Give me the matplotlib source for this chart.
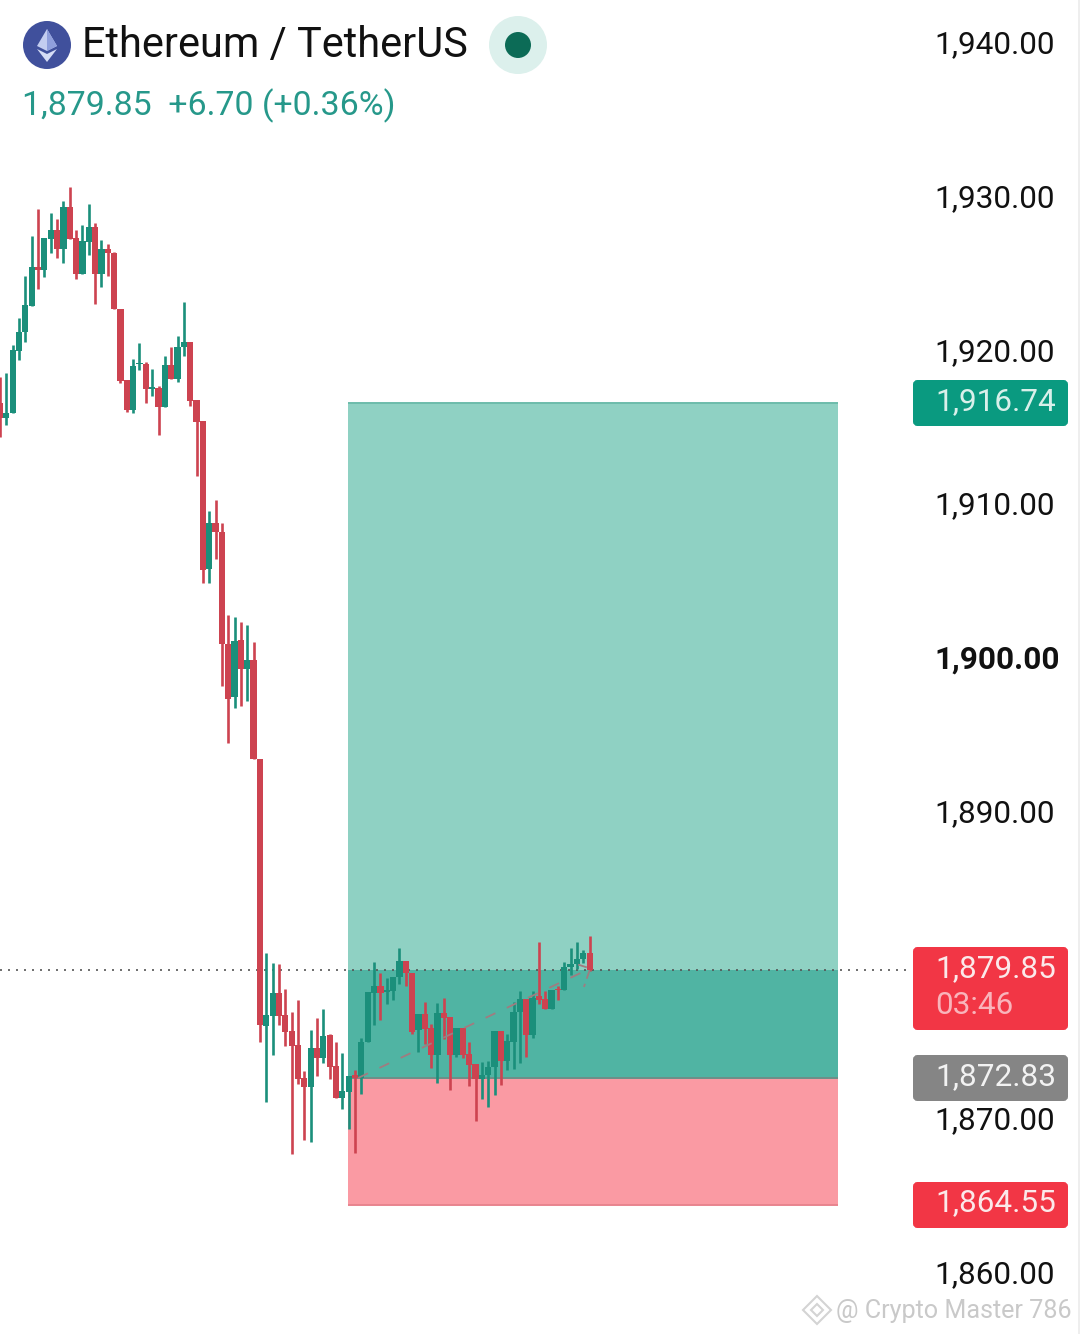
import numpy as np
import matplotlib
matplotlib.use("Agg")
import matplotlib.pyplot as plt
from matplotlib.patches import FancyBboxPatch, Circle, Polygon, Rectangle
from matplotlib.transforms import ScaledTranslation

plt.rcParams['font.family'] = ['Roboto', 'DejaVu Sans']

# ---------- data ----------
opens = [1916.60,1915.63,1915.95,1919.99,1921.23,1922.92,1925.46,1925.26,1927.28,1927.87,
 1926.63,1929.36,1927.35,1925.00,1927.09,1928.06,1925.00,1926.63,1926.37,1922.72,
 1918.10,1916.15,1919.14,1919.14,1917.52,1917.58,1916.34,1919.08,1918.17,1920.25,
 1920.58,1916.80,1915.43,1905.80,1908.79,1908.21,1900.92,1897.47,1901.18,1899.29,
 1899.87,1893.43,1876.11,1876.76,1878.26,1876.83,1875.79,1874.88,1872.73,1872.14,
 1874.68,1874.03,1875.53,1873.51,1871.43,1871.82,1872.92,1872.73,1875.07,1878.26,
 1878.72,1878.33,1878.39,1879.30,1880.34,1879.56,1875.85,1876.89,1875.98,1874.22,
 1876.96,1876.70,1874.22,1875.98,1874.29,1873.64,1872.66,1872.92,1873.44,1875.79,
 1873.83,1875.07,1877.02,1877.87,1875.53,1878.07,1877.87,1877.22,1878.52,1878.46,
 1879.95,1880.15,1880.47,1880.86]
closes = [1915.63,1915.95,1920.05,1921.23,1922.98,1925.46,1925.26,1927.35,1927.87,1926.63,
 1929.36,1927.28,1925.00,1927.15,1928.06,1925.00,1926.63,1926.37,1922.72,1918.04,
 1916.15,1919.01,1919.21,1917.52,1917.65,1916.34,1919.08,1918.17,1920.25,1920.58,
 1916.73,1915.37,1905.73,1908.79,1908.21,1900.92,1897.34,1901.11,1899.29,1899.87,
 1893.43,1876.18,1876.83,1878.26,1876.76,1875.72,1874.81,1872.66,1872.14,1874.68,
 1874.03,1875.46,1873.44,1871.43,1871.88,1872.86,1872.73,1875.07,1878.33,1878.72,
 1878.26,1878.46,1879.30,1880.34,1879.56,1875.72,1876.89,1875.92,1874.22,1876.96,
 1876.63,1874.22,1875.98,1874.22,1873.57,1872.66,1872.92,1873.44,1875.79,1873.83,
 1875.13,1877.02,1877.87,1875.53,1877.93,1877.81,1877.22,1878.46,1878.46,1879.95,
 1880.15,1880.47,1880.86,1879.73]
highs = [1918.30,1918.56,1920.38,1922.14,1924.87,1927.48,1929.23,1927.35,1928.97,1928.58,
 1929.75,1930.67,1927.87,1928.19,1929.56,1928.32,1927.22,1926.96,1926.43,1922.72,
 1918.10,1919.47,1920.51,1919.27,1918.82,1917.71,1919.66,1920.25,1920.97,1923.18,
 1920.58,1916.80,1915.43,1909.57,1910.29,1908.79,1902.80,1902.67,1902.35,1902.15,
 1901.05,1893.43,1880.86,1880.21,1880.15,1878.52,1877.02,1877.81,1873.18,1875.85,
 1876.63,1877.22,1875.59,1875.07,1874.35,1872.86,1873.25,1875.33,1878.33,1880.28,
 1879.56,1879.24,1879.30,1881.13,1880.34,1879.56,1876.89,1877.67,1876.24,1877.61,
 1877.94,1876.70,1875.98,1875.98,1875.07,1873.64,1873.77,1873.83,1875.79,1875.79,
 1875.59,1877.67,1878.39,1877.87,1878.39,1881.58,1878.39,1878.46,1878.72,1880.28,
 1881.13,1881.58,1881.06,1881.97]
lows = [1914.39,1915.17,1915.95,1919.40,1920.58,1922.92,1924.03,1924.81,1926.37,1926.04,
 1925.72,1927.28,1924.68,1925.00,1926.24,1923.05,1924.16,1924.87,1922.72,1917.91,
 1916.02,1915.95,1918.75,1916.60,1917.06,1914.52,1916.34,1918.17,1917.97,1919.66,
 1916.41,1911.85,1904.89,1904.89,1906.45,1898.18,1894.47,1896.75,1896.88,1897.20,
 1893.43,1875.07,1871.16,1874.22,1876.18,1874.81,1867.78,1872.34,1868.69,1868.56,
 1872.86,1873.70,1872.66,1871.43,1870.71,1869.41,1867.84,1871.69,1875.07,1876.18,
 1876.50,1877.54,1877.81,1878.85,1878.72,1875.59,1874.42,1874.94,1873.38,1872.40,
 1875.27,1871.95,1874.09,1874.03,1872.21,1869.93,1871.36,1870.84,1871.62,1872.27,
 1873.25,1873.31,1873.70,1874.09,1875.33,1877.54,1877.22,1877.22,1877.81,1878.46,
 1879.43,1879.82,1880.21,1879.69]

tick_prices = [1940, 1930, 1920, 1910, 1900, 1890, 1870, 1860]
bold_tick = 1900
target_price = 1916.74
last_price = 1879.85
entry_price = 1872.83
stop_price = 1864.55
title = "Ethereum / TetherUS"
quote = "1,879.85  +6.70 (+0.36%)"
countdown = "03:46"
watermark = "@ Crypto Master 786"

# ---------- styles ----------
W, H = 1080, 1334
GREEN, RED = '#1b8f7b', '#cd4350'
PITCH = 6.34            # pixels per candle
X0 = 0.0                # index at the left picture edge
CAL = 0.12              # reading calibration of the picture's price scale
LABEL_SIZE = 22.7

O = np.array(opens) + CAL
C = np.array(closes) + CAL
Hi = np.array(highs) + CAL
Lo = np.array(lows) + CAL
idx = np.arange(len(O))

fig = plt.figure(figsize=(W/100, H/100), dpi=100, facecolor='white')
ax = fig.add_axes([0, 0, 1, 1], facecolor='white')
ax.set_xlim(X0, X0 + W/PITCH)
top = target_price + 403/15.37
ax.set_ylim(top - H/15.37, top)
for s in ax.spines.values():
    s.set_visible(False)
ax.set_xticks([])

# risk / reward zones
box_l, box_r = X0 + 348/PITCH, X0 + 838/PITCH
ax.add_patch(Rectangle((box_l, entry_price), box_r-box_l, target_price-entry_price,
                       fc='#8fd1c3', ec='none', zorder=1))
ax.add_patch(Rectangle((box_l, entry_price), box_r-box_l, last_price-entry_price,
                       fc='#50b4a3', ec='none', zorder=1.1))
ax.add_patch(Rectangle((box_l, stop_price), box_r-box_l, entry_price-stop_price,
                       fc='#fa9aa3', ec='none', zorder=1))
ax.hlines(target_price, box_l, box_r, color='#6dbcab', lw=1.4, zorder=1.2)
ax.hlines(entry_price, box_l, box_r, color='#6c8f88', lw=1.4, zorder=1.2)
ax.hlines(stop_price, box_l, box_r, color='#e8848e', lw=1.4, zorder=1.2)

# last price dotted line
ax.hlines(last_price, X0, X0 + 906/PITCH, color='#555555', lw=1.2,
          linestyles=(0, (1.2, 3.6)), zorder=1.5)

# candles
colors = [RED if c < o else GREEN for o, c in zip(O, C)]
ax.vlines(idx, Lo, Hi, colors=colors, lw=1.9, zorder=3)
ax.bar(idx, np.abs(C-O), bottom=np.minimum(O, C), width=0.98, color=colors, zorder=3.1, linewidth=0)

# projected path (dashed with arrow head)
path_x = [56.5, 93.1]
path_y = [entry_price, last_price + 0.1]
ax.plot(path_x, path_y, color='#a07c80', lw=1.3, ls=(0, (6, 7)), zorder=3.3)
ax.plot([91.2, 93.1, 92.1], [last_price + 0.35, last_price + 0.1, last_price - 1.1],
        color='#a07c80', lw=1.3, ls=(0, (5, 3)), zorder=3.3)

# price scale
ax.yaxis.tick_right()
ax.set_yticks(tick_prices)
ax.set_yticklabels([f"{p:,.2f}" for p in tick_prices])
ax.tick_params(axis='y', length=0, pad=-(W-934.5)*0.72, labelsize=LABEL_SIZE, labelcolor='#111111')
for lab, p in zip(ax.get_yticklabels(), tick_prices):
    lab.set_ha('left')
    lab.set_va('center')
    lab.set_transform(lab.get_transform() + ScaledTranslation(0, 0.6/100, fig.dpi_scale_trans))
    if p == bold_tick:
        lab.set_fontweight('bold')

# overlay in picture pixels for the app chrome
ov = fig.add_axes([0, 0, 1, 1], facecolor='none', zorder=5)
ov.set_xlim(0, W); ov.set_ylim(H, 0); ov.axis('off')

def tag(y0, y1, color):
    ov.add_patch(FancyBboxPatch((914.5, y0+1.5), 152, y1-y0-3, boxstyle="round,pad=0,rounding_size=3",
                                fc=color, ec=color, lw=3*0.72, mutation_aspect=1))

TAGTXT = '#fbe9ea'
TX = 935.5
tag(380, 426, '#0a9a80')
ov.text(TX, 402, f"{target_price:,.2f}", color='#d9f0ea', fontsize=LABEL_SIZE, va='center', ha='left')
tag(947, 1030, '#f23645')
ov.text(TX, 969, f"{last_price:,.2f}", color=TAGTXT, fontsize=LABEL_SIZE, va='center', ha='left')
ov.text(TX, 1006, countdown, color='#f9b4bb', fontsize=LABEL_SIZE, va='center', ha='left')
tag(1055, 1101, '#858585')
ov.text(TX, 1077, f"{entry_price:,.2f}", color='#f2f2f2', fontsize=LABEL_SIZE, va='center', ha='left')
tag(1182, 1228, '#f23645')
ov.text(TX, 1203, f"{stop_price:,.2f}", color=TAGTXT, fontsize=LABEL_SIZE, va='center', ha='left')

# header
ov.add_patch(Circle((47, 45), 24, fc='#40509c', ec='none'))
ov.add_patch(Polygon([(47, 29), (37, 46), (47, 51), (57, 46)], fc='#c3cdf0', ec='none'))
ov.add_patch(Polygon([(47, 29), (47, 51), (57, 46)], fc='#8f9fdc', ec='none'))
ov.add_patch(Polygon([(37, 49), (47, 62), (57, 49), (47, 54)], fc='#d5dcf5', ec='none'))
ov.text(81.5, 46, title, color='#111111', fontsize=29.9, va='center', ha='left')
ov.add_patch(Circle((518, 45), 29, fc='#dcf0ec', ec='none'))
ov.add_patch(Circle((518, 45), 13, fc='#0c6b56', ec='none'))
ov.text(21.5, 106, quote, color='#26988a', fontsize=24.4, va='center', ha='left')

# watermark
ov.text(836, 1311, watermark, color='#c9c9c9', fontsize=18.1, va='center', ha='left')
ov.add_patch(Polygon([(817, 1296), (831, 1310), (817, 1324), (803, 1310)], fc='none', ec='#d4d4d4', lw=1.5))
ov.add_patch(Polygon([(817, 1304), (823, 1310), (817, 1316), (811, 1310)], fc='none', ec='#d4d4d4', lw=1.5))

# screen edge
ov.add_patch(Rectangle((1078, 0), 2, H, fc='#eeeeee', ec='none'))

fig.savefig('out.png', dpi=100, facecolor='white')
